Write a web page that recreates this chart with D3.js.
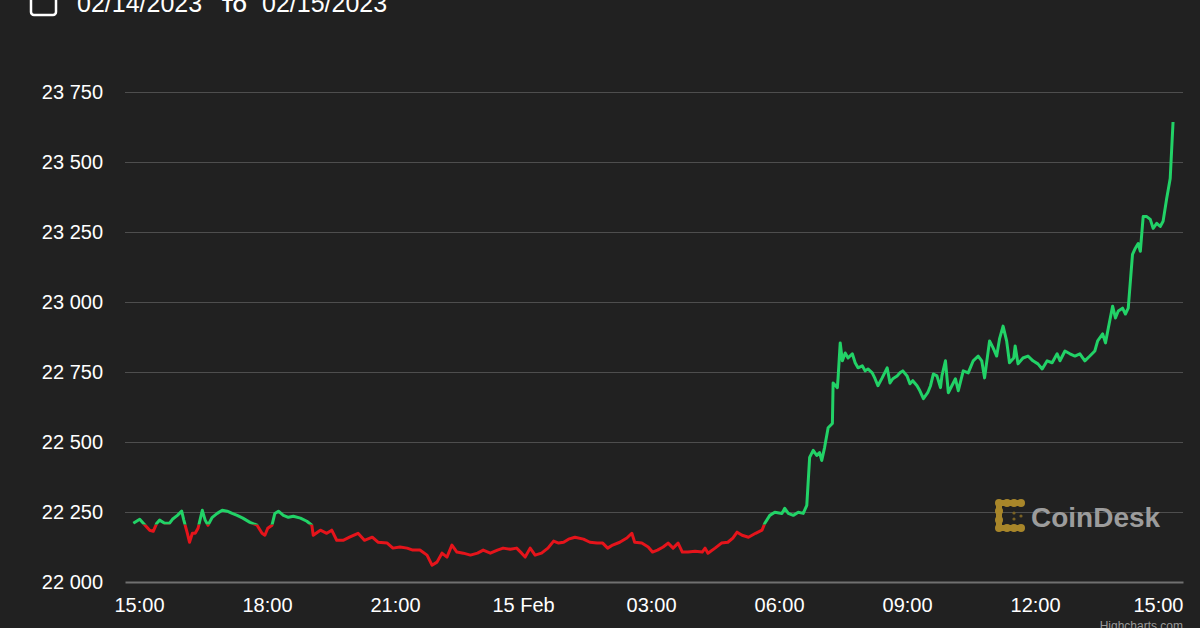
<!DOCTYPE html>
<html>
<head>
<meta charset="utf-8">
<script src="https://cdn.jsdelivr.net/npm/d3@7"></script>
<style>
  html, body { margin: 0; padding: 0; background: #212121; }
  svg { display: block; font-family: "Liberation Sans", Arial, Helvetica, sans-serif; }
</style>
</head>
<body>
<svg id="chart" width="1200" height="628"></svg>
<script>
// ---- data (minutes after 14 Feb 2023 15:00, BTC price in USD) ----
const minutes = [-8,1,6,15,20,25,29,36,43,47,54,60,63,68,71,75,79,83,89,93,97,103,110,117,124,131,138,146,156,166,173,177,181,187,191,196,203,210,217,227,236,243,245,255,264,271,278,287,296,308,317,328,336,349,357,367,377,385,395,405,412,419,426,433,440,447,456,466,476,484,494,504,512,522,531,538,543,550,557,566,575,583,590,597,604,613,625,634,644,652,659,666,676,686,693,697,707,716,722,729,737,744,751,758,764,772,782,792,796,800,810,819,828,835,841,848,857,867,876,880,887,894,904,908,913,920,927,934,939,943,948,953,957,960,964,969,975,976,982,983,986,989,993,997,1003,1007,1011,1017,1021,1025,1031,1035,1039,1045,1052,1056,1060,1066,1070,1074,1080,1084,1088,1094,1098,1103,1109,1113,1117,1122,1127,1129,1134,1138,1143,1148,1152,1159,1166,1173,1180,1185,1189,1196,1201,1206,1210,1215,1220,1224,1230,1232,1236,1243,1250,1257,1264,1270,1277,1284,1291,1295,1302,1309,1316,1323,1330,1337,1344,1348,1355,1359,1363,1369,1373,1377,1383,1387,1391,1397,1401,1405,1408,1412,1417,1422,1426,1431,1436,1440,1445,1450,1454];
const prices = [22210,22224,22210,22185,22181,22210,22221,22210,22210,22224,22238,22253,22221,22174,22142,22174,22174,22192,22256,22221,22203,22231,22245,22256,22253,22245,22238,22228,22213,22203,22174,22167,22192,22203,22245,22253,22238,22231,22235,22228,22217,22203,22167,22185,22174,22185,22149,22149,22160,22174,22149,22160,22142,22139,22121,22125,22121,22114,22114,22096,22060,22071,22103,22089,22132,22107,22103,22096,22103,22114,22103,22114,22121,22117,22121,22103,22089,22121,22096,22103,22121,22146,22139,22142,22153,22160,22153,22142,22139,22139,22121,22132,22142,22157,22174,22142,22139,22125,22107,22114,22125,22139,22121,22139,22107,22107,22110,22107,22121,22103,22121,22139,22142,22157,22178,22167,22160,22174,22185,22210,22238,22249,22245,22263,22245,22238,22249,22245,22274,22445,22470,22452,22462,22434,22480,22551,22566,22711,22694,22729,22854,22790,22818,22800,22815,22783,22765,22772,22754,22761,22747,22726,22701,22729,22765,22711,22726,22736,22747,22754,22736,22708,22719,22701,22683,22655,22676,22701,22743,22736,22694,22736,22790,22676,22701,22726,22683,22754,22747,22790,22807,22790,22729,22861,22836,22807,22868,22914,22861,22783,22800,22843,22779,22800,22807,22790,22779,22761,22790,22783,22815,22790,22825,22815,22807,22815,22790,22807,22825,22861,22886,22854,22907,22985,22943,22968,22978,22957,22978,23170,23192,23209,23181,23305,23305,23295,23263,23281,23270,23288,23369,23441,23643];
const threshold = 22205;                       // zone split: green above, red below
const yTicks = [22000,22250,22500,22750,23000,23250,23500,23750];
const xTickHours = [0,3,6,9,12,15,18,21,24];   // hours after 14 Feb 15:00
const xTickLabels = ["15:00","18:00","21:00","15 Feb","03:00","06:00","09:00","12:00","15:00"];
const rangeLabels = ["02/14/2023","TO","02/15/2023"];
const xDomainMinutes = [-19.7, 1468];

// ---- setup ----
const start = new Date(2023, 1, 14, 15, 0, 0);
const toDate = m => new Date(start.getTime() + m * 60000);
const data = minutes.map((m, i) => ({ t: toDate(m), v: prices[i] }));

const svg = d3.select("#chart");
const W = 1200, H = 628;
const plot = { left: 125, right: 1183, top: 92, bottom: 582 };

svg.append("rect").attr("width", W).attr("height", H).attr("fill", "#212121");

const x = d3.scaleTime().domain(xDomainMinutes.map(toDate)).range([plot.left, plot.right]);
const y = d3.scaleLinear().domain([22000, 23750]).range([plot.bottom, plot.top]);

const fmt = v => d3.format(",")(v).replace(/,/g, " ");

// ---- y axis with gridlines ----
const yAxis = d3.axisLeft(y).tickValues(yTicks).tickFormat(fmt)
  .tickSize(-(plot.right - plot.left)).tickPadding(22);
const gy = svg.append("g").attr("transform", `translate(${plot.left},0)`).call(yAxis);
gy.select(".domain").remove();
gy.selectAll(".tick line").attr("stroke", "#4e4e4e").attr("stroke-width", 1)
  .attr("display", d => d === 22000 ? "none" : null);
gy.selectAll(".tick text").attr("fill", "#ffffff").attr("font-size", 20)
  .attr("font-family", "'Liberation Sans', Arial, sans-serif");

// ---- x axis ----
const xTickDates = xTickHours.map(h => toDate(h * 60));
const xAxis = d3.axisBottom(x).tickValues(xTickDates)
  .tickFormat((d, i) => xTickLabels[i]).tickSize(0).tickPadding(16);
const gx = svg.append("g").attr("transform", `translate(0,${plot.bottom})`).call(xAxis);
gx.select(".domain").attr("stroke", "#707070").attr("stroke-width", 2);
gx.selectAll(".tick text").attr("fill", "#ffffff").attr("font-size", 20)
  .attr("font-family", "'Liberation Sans', Arial, sans-serif");
// keep last label inside the plot (right-justify)
gx.selectAll(".tick").each(function(d, i) {
  if (i === xTickDates.length - 1) {
    const px = x(d);
    d3.select(this).select("text").attr("text-anchor", "end").attr("x", plot.right - px);
  }
});

// ---- CoinDesk watermark ----
const logo = svg.append("g");
const gold = "#a8862a";
logo.append("path").attr("d", "M1021,503 L999,503 L999,528 L1021,528")
  .attr("fill", "none").attr("stroke", gold).attr("stroke-width", 6)
  .attr("stroke-linecap", "round").attr("stroke-linejoin", "round");
[[999,503],[1007,503],[1014,503],[1021,503],[999,511],[999,520],[999,528],[1007,528],[1014,528],[1021,528]]
  .forEach(([cx, cy]) => logo.append("circle").attr("cx", cx).attr("cy", cy).attr("r", 4).attr("fill", gold));
[[1014,513],[1014,519],[1021,516]].forEach(([cx, cy]) =>
  logo.append("circle").attr("cx", cx).attr("cy", cy).attr("r", 1.6).attr("fill", "#7a6224"));
logo.append("text").attr("x", 1031).attr("y", 527).attr("font-size", 28).attr("font-weight", "bold")
  .attr("fill", "#9c9c9c").text("CoinDesk");

// ---- price line with zones ----
const defs = svg.append("defs");
defs.append("clipPath").attr("id", "clipUp").append("rect")
  .attr("x", 0).attr("y", 0).attr("width", W).attr("height", y(threshold));
defs.append("clipPath").attr("id", "clipDown").append("rect")
  .attr("x", 0).attr("y", y(threshold)).attr("width", W).attr("height", H - y(threshold));

const line = d3.line().x(d => x(d.t)).y(d => y(d.v));
svg.append("path").datum(data).attr("d", line).attr("fill", "none")
  .attr("stroke", "#e5141b").attr("stroke-width", 3).attr("stroke-linejoin", "round")
  .attr("clip-path", "url(#clipDown)");
svg.append("path").datum(data).attr("d", line).attr("fill", "none")
  .attr("stroke", "#22d267").attr("stroke-width", 3).attr("stroke-linejoin", "round")
  .attr("clip-path", "url(#clipUp)");

// ---- header (date range, partially cut off) ----
svg.append("rect").attr("x", 31).attr("y", -12).attr("width", 25).attr("height", 27).attr("rx", 3)
  .attr("fill", "none").attr("stroke", "#ffffff").attr("stroke-width", 2.5);
svg.append("text").attr("x", 77).attr("y", 12).attr("font-size", 25).attr("fill", "#ffffff").text(rangeLabels[0]);
svg.append("text").attr("x", 222).attr("y", 12).attr("font-size", 18).attr("font-weight", "bold")
  .attr("fill", "#ffffff").text(rangeLabels[1]);
svg.append("text").attr("x", 262).attr("y", 12).attr("font-size", 25).attr("fill", "#ffffff").text(rangeLabels[2]);

// ---- credits ----
svg.append("text").attr("x", plot.right).attr("y", 630).attr("text-anchor", "end")
  .attr("font-size", 12).attr("fill", "#999999").text("Highcharts.com");
</script>
</body>
</html>
